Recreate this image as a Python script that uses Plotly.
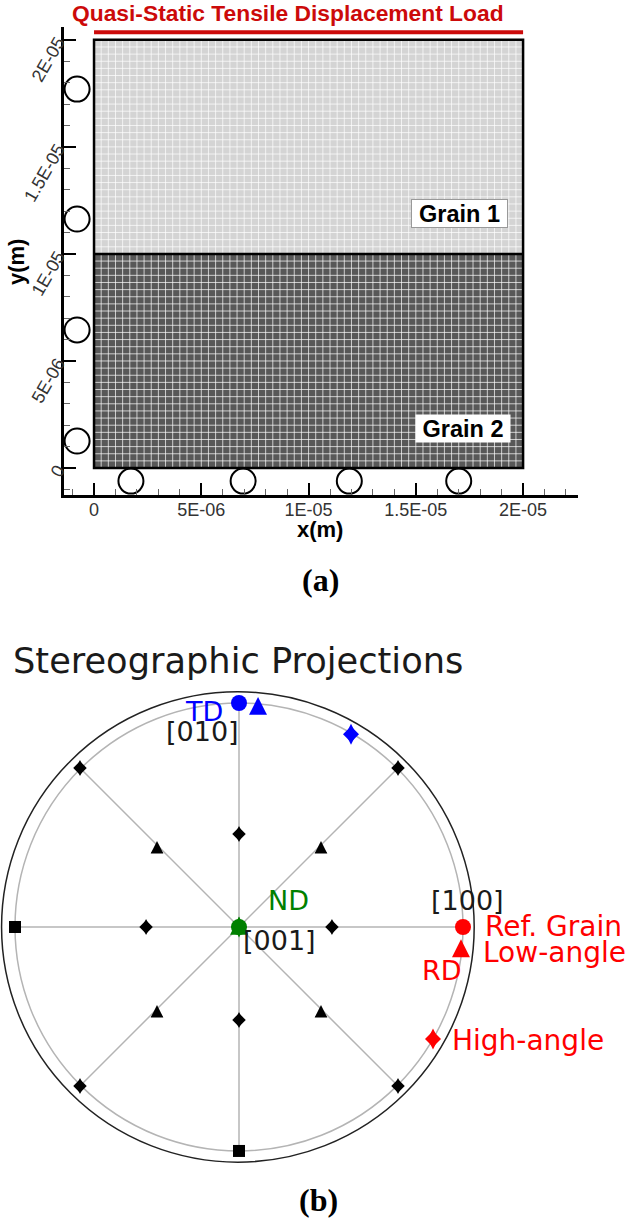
import numpy as np
import plotly.graph_objects as go

WIDTH, HEIGHT = 629, 1219

# panel (a): mesh with two grains
MESH_CELLS = 60
DOMAIN_MAX = 2e-5
GRAIN_BOUNDARY = 1e-5
GRAIN_COLORS = ["#d4d4d4", "#585858"]
roller_left_x = [-7.9e-7, -7.9e-7, -7.9e-7, -7.9e-7]
roller_left_y = [1.77e-5, 1.163e-5, 6.45e-6, 1.26e-6]
roller_bottom_x = [1.72e-6, 6.95e-6, 1.19e-5, 1.7e-5]
roller_bottom_y = [-6.1e-7, -6.1e-7, -6.1e-7, -6.1e-7]
x_ticks = [0, 5e-6, 1e-5, 1.5e-5, 2e-5]
x_tick_labels = ["0", "5E-06", "1E-05", "1.5E-05", "2E-05"]
y_ticks = [0, 5e-6, 1e-5, 1.5e-5, 2e-5]
y_tick_labels = ["0", "5E-06", "1E-05", "1.5E-05", "2E-05"]

# panel (b): pole figure, radius 1 is the grey circle
spoke_x = [[-1, 1], [0, 0], [-0.71, 0.71], [-0.71, 0.71]]
spoke_y = [[0, 0], [-1, 1], [-0.71, 0.71], [0.71, -0.71]]
pole_110_x = [-0.71, 0.71, -0.71, 0.71, 0, -0.415, 0.415, 0]
pole_110_y = [0.71, 0.71, -0.71, -0.71, 0.415, 0, 0, -0.415]
# triangles are given by their apex
pole_111_x = [-0.366, 0.366, -0.366, 0.366]
pole_111_y = [0.384, 0.384, -0.348, -0.348]
pole_100_x = [-1, 0]
pole_100_y = [0, -1]
ref_x = {"blue": 0, "red": 1, "green": 0}
ref_y = {"blue": 1, "red": 0, "green": 0}
low_x = {"blue": 0.085, "red": 0.991, "green": 0}
low_y = {"blue": 1.027, "red": -0.055, "green": 0.045}
high_x = {"blue": 0.5, "red": 0.866, "green": 0}
high_y = {"blue": 0.86, "red": -0.5, "green": 0}


def x_dom(left, right):
    return [left / WIDTH, right / WIDTH]


def y_dom(top, bottom):
    return [1 - bottom / HEIGHT, 1 - top / HEIGHT]


def label(text, x, y, size=27, color="#1a1a1a", anchor="center", family="DejaVu Sans", bold=False, **kwargs):
    if bold:
        text = f"<b>{text}</b>"
    return dict(
        text=text, x=x / WIDTH, y=1 - y / HEIGHT, xref="paper", yref="paper",
        xanchor=anchor, yanchor="middle", showarrow=False,
        font=dict(size=size, color=color, family=family), **kwargs,
    )


def add_markers(x, y, symbol, size, color, standoff=0):
    fig.add_trace(go.Scatter(
        x=x, y=y, mode="markers", xaxis="x2", yaxis="y2",
        marker=dict(symbol=symbol, size=size, color=color, opacity=1, standoff=standoff, line=dict(width=0)),
    ))


def add_diamonds(x, y, width, height, color):
    # plotly has only 1:1 and 1:2 diamonds, the reference sits in between
    add_markers(x, y, "diamond", width / 1.3, color)
    add_markers(x, y, "diamond-tall", height / 1.4, color)


def add_triangles(x, y, width, height, color):
    # triangle-up is too flat on its own, so put an arrow on it, bases aligned
    r = width / 2.31
    add_markers(x, y, "arrow-up", height / 0.95, color)
    add_markers(x, y, "triangle-up", 2 * r, color, standoff=height - r / 2)


edges = np.linspace(0, DOMAIN_MAX, MESH_CELLS + 1)
centres = (edges[:-1] + edges[1:]) / 2
grain_id = np.where(centres[:, None] < GRAIN_BOUNDARY, 1, 0) * np.ones((MESH_CELLS, MESH_CELLS))

mesh_x, mesh_y = [], []
for e in edges:
    mesh_x += [e, e, None, 0, DOMAIN_MAX, None]
    mesh_y += [0, DOMAIN_MAX, None, e, e, None]

fig = go.Figure()

fig.add_trace(go.Heatmap(
    x=centres, y=centres, z=grain_id, zmin=0, zmax=1, showscale=False,
    colorscale=[[0, GRAIN_COLORS[0]], [1, GRAIN_COLORS[1]]], xaxis="x", yaxis="y",
))
fig.add_trace(go.Scatter(
    x=mesh_x, y=mesh_y, mode="lines", line=dict(color="rgba(255,255,255,0.7)", width=1), xaxis="x", yaxis="y",
))
fig.add_trace(go.Scatter(
    x=roller_left_x + roller_bottom_x, y=roller_left_y + roller_bottom_y, mode="markers",
    marker=dict(symbol="circle", size=25, color="white", line=dict(color="black", width=2)),
    xaxis="x", yaxis="y", cliponaxis=False,
))

for sx, sy in zip(spoke_x, spoke_y):
    fig.add_trace(go.Scatter(x=sx, y=sy, mode="lines", line=dict(color="#b4b4b4", width=1.5), xaxis="x2", yaxis="y2"))

add_diamonds(pole_110_x, pole_110_y, 13.5, 16, "black")
add_triangles(pole_111_x, pole_111_y, 12, 12, "black")
add_markers(pole_100_x, pole_100_y, "square", 12, "black")
for color in ["green", "blue", "red"]:
    add_markers([ref_x[color]], [ref_y[color]], "circle", 16, color)
    add_triangles([low_x[color]], [low_y[color]], 16, 17, color)
    add_diamonds([high_x[color]], [high_y[color]], 16, 21, color)

shapes = [
    # grain outlines and the load bar
    dict(type="rect", xref="x", yref="y", x0=0, x1=DOMAIN_MAX, y0=0, y1=DOMAIN_MAX, line=dict(color="black", width=2.5)),
    dict(type="line", xref="x", yref="y", x0=0, x1=DOMAIN_MAX, y0=GRAIN_BOUNDARY, y1=GRAIN_BOUNDARY, line=dict(color="black", width=2.5)),
    dict(type="line", xref="x", yref="y", x0=0, x1=DOMAIN_MAX, y0=2.035e-5, y1=2.035e-5, line=dict(color="#cc0a0a", width=4)),
    # pole figure circles
    dict(type="circle", layer="below", xref="x2", yref="y2", x0=-1, x1=1, y0=-1, y1=1, line=dict(color="#b4b4b4", width=1.5)),
    dict(type="circle", layer="below", xref="x2", yref="y2", x0=-1.06, x1=1.05, y0=-1.05, y1=1.05, line=dict(color="#222222", width=1.5)),
]

annotations = [
    label("Quasi-Static Tensile Displacement Load", 288, 13, size=22.8, color="#cc0a0a", family="Liberation Sans", bold=True),
    label("x(m)", 320, 529, size=22, color="black", family="Liberation Sans", bold=True),
    label("y(m)", 16, 262, size=22, color="black", family="Liberation Sans", bold=True, textangle=-90),
    label("Grain 1", 459.5, 213.5, size=23.5, color="black", family="Liberation Sans", bold=True,
          bgcolor="white", bordercolor="#999999", borderwidth=1, width=93, height=25),
    label("Grain 2", 463, 428.5, size=23.5, color="black", family="Liberation Sans", bold=True,
          bgcolor="white", width=92, height=25),
    label("(a)", 320, 580, size=32, color="black", family="Liberation Serif", bold=True),
    label("(b)", 318, 1200, size=32, color="black", family="Liberation Serif", bold=True),
    label("Stereographic Projections", 11, 660, size=35.2, anchor="left"),
    label("TD", 204, 712, color="blue"),
    label("[010]", 202, 731),
    label("ND", 288, 900, color="green"),
    label("[001]", 279, 940),
    label("[100]", 467, 901),
    label("RD", 442, 970, color="red"),
    label("Ref. Grain", 483, 926, size=28, color="red", anchor="left"),
    label("Low-angle", 481, 952, size=28, color="red", anchor="left"),
    label("High-angle", 450, 1040, size=28, color="red", anchor="left"),
]

tick_font = dict(family="Liberation Sans", size=18, color="#333333")
minor = dict(dtick=1e-6, ticks="inside", ticklen=6, tickwidth=1, tickcolor="#666666")

fig.update_layout(
    width=WIDTH, height=HEIGHT, margin=dict(l=0, r=0, t=0, b=0), showlegend=False,
    paper_bgcolor="white", plot_bgcolor="white",
    shapes=shapes, annotations=annotations,
    xaxis=dict(
        domain=x_dom(64, 578), range=[-1.4e-6, 2.256e-5], anchor="y", tickvals=x_ticks, ticktext=x_tick_labels,
        ticks="inside", ticklen=12, tickwidth=2, tickcolor="black", showgrid=False, zeroline=False,
        showline=True, linecolor="black", linewidth=2.5, tickfont=tick_font, minor=minor, ticklabelstandoff=-3,
    ),
    yaxis=dict(
        domain=y_dom(27, 495), range=[-1.26e-6, 2.06e-5], anchor="x", tickvals=y_ticks, ticktext=y_tick_labels,
        tickangle=-60, ticks="inside", ticklen=12, tickwidth=2, tickcolor="black", showgrid=False, zeroline=False,
        showline=True, linecolor="black", linewidth=2.5, tickfont=tick_font, minor=minor,
    ),
    xaxis2=dict(domain=x_dom(0, 478), range=[-1.067, 1.067], anchor="y2", visible=False),
    yaxis2=dict(domain=y_dom(690, 1170), range=[-1.085, 1.058], anchor="x2", visible=False),
)

fig.write_html("out.html", config=dict(displayModeBar=False), post_script="document.body.style.margin = '0';")
